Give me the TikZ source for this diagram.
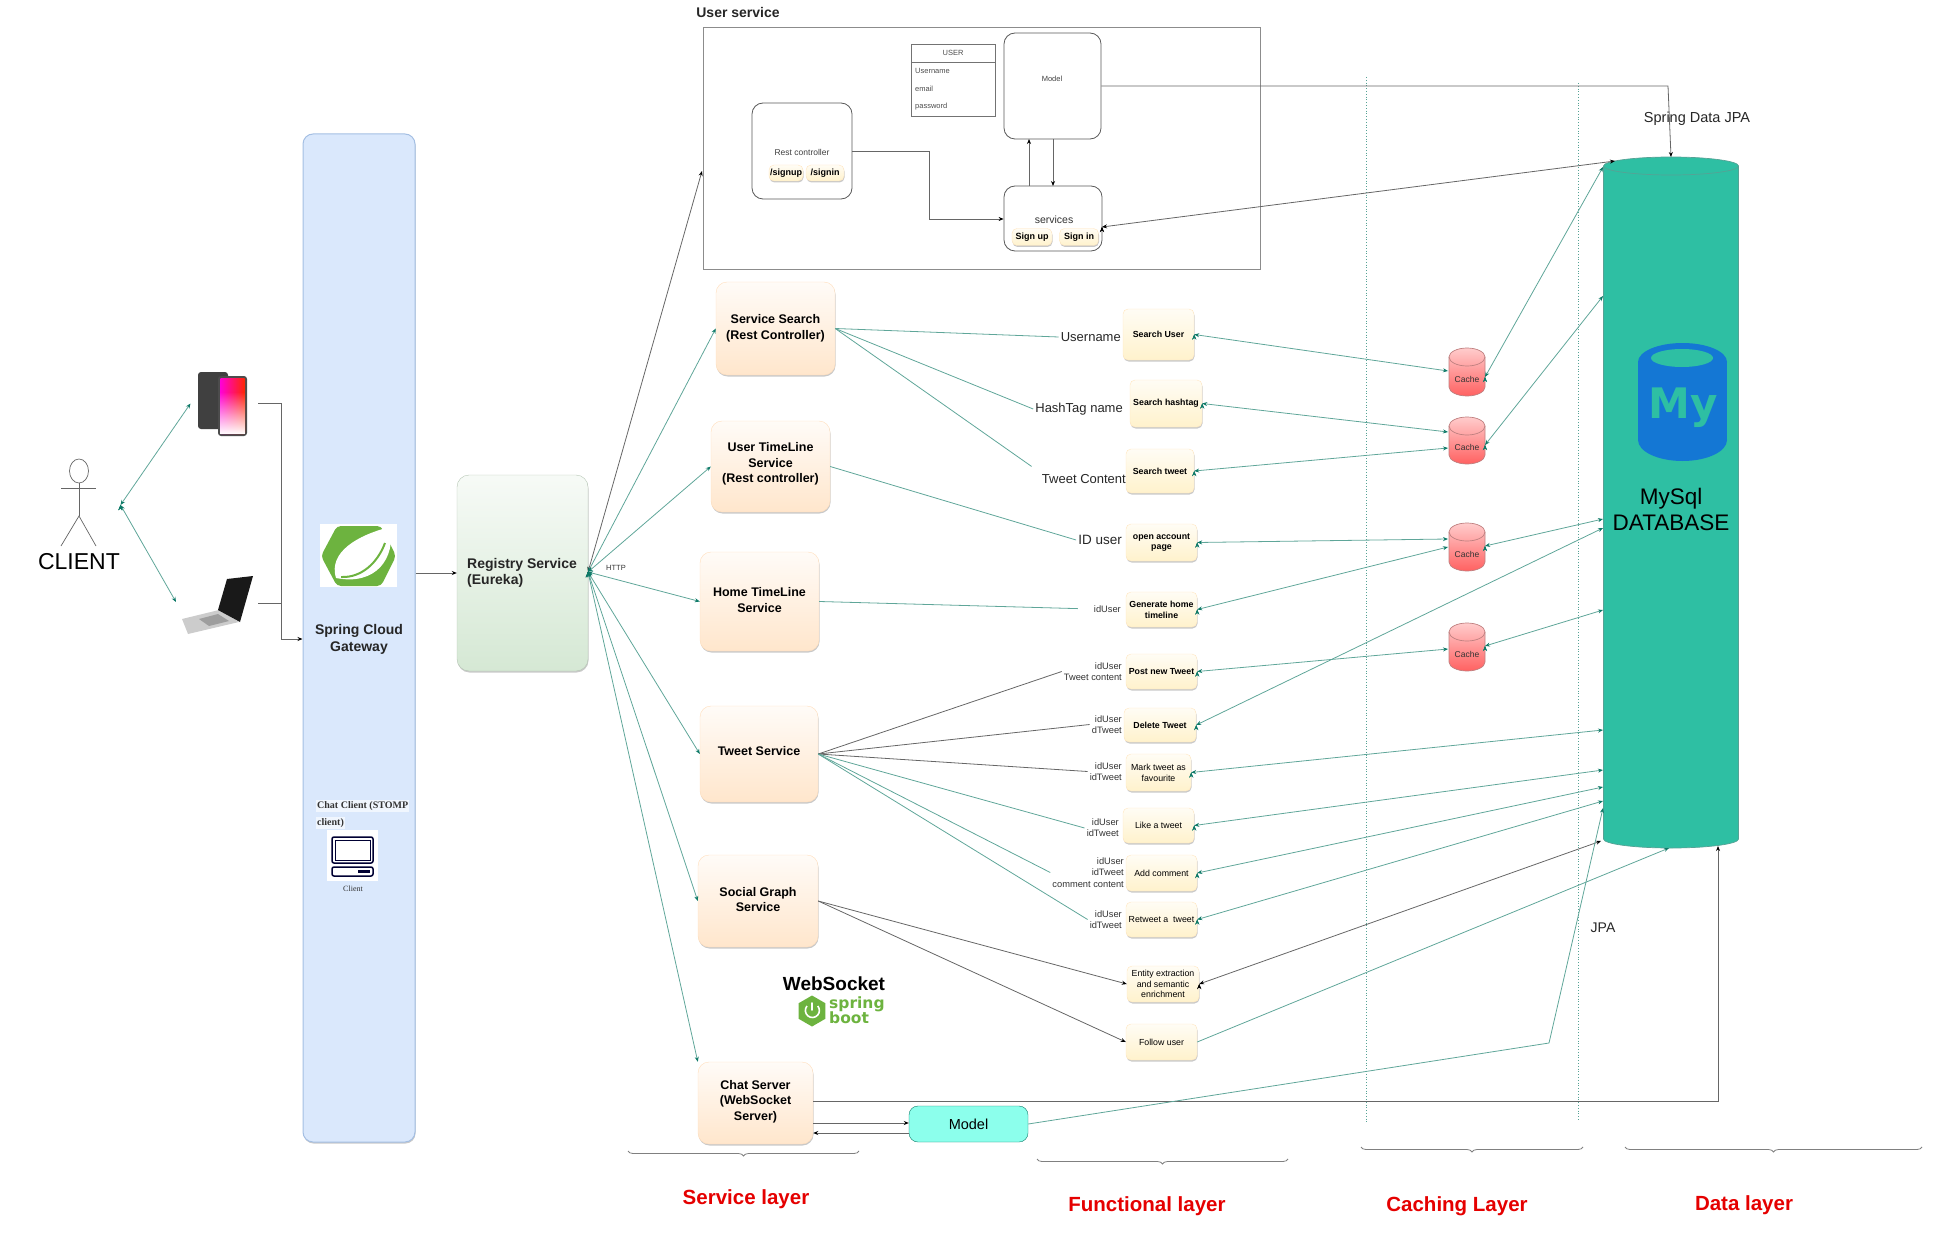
\documentclass[tikz,border=0pt]{standalone}
\usepackage{fontspec}
\setmainfont{Liberation Sans}
\newfontfamily\logofont{DejaVu Sans}
\newfontfamily\serifchat{Liberation Serif}
\usetikzlibrary{arrows.meta,shapes.geometric,shadows,fadings,decorations.pathreplacing}
\definecolor{linkteal}{HTML}{5FA699}
\definecolor{tipteal}{HTML}{0E7A68}
\definecolor{wiregrey}{HTML}{666666}
\definecolor{gwfill}{HTML}{DAE8FC}
\definecolor{gwline}{HTML}{A4BFE3}
\definecolor{dbgreen}{HTML}{2EBFA3}
\definecolor{mylogo}{HTML}{1477D4}
\definecolor{springgreen}{HTML}{6DB33F}
\definecolor{svcfill}{HTML}{FFE6CC}
\definecolor{funcfill}{HTML}{FFF2CC}
\definecolor{regfill}{HTML}{D5E8D4}
\definecolor{cyanfill}{HTML}{8CFFEC}
\newcommand{\fsz}[1]{\fontsize{#1}{#1}\selectfont}
\newcommand{\drum}[6]{%
  \path [#6] ({#1-#4},{#2+#5}) arc [start angle=180,end angle=360,x radius=#4,y radius=#5] -- ({#1+#4},{#3-#5}) arc [start angle=0,end angle=180,x radius=#4,y radius=#5] -- cycle;
  \path [#6,shade=none,fill=none] ({#1-#4},{#2+#5}) arc [start angle=180,end angle=0,x radius=#4,y radius=#5];
}
\tikzset{
  tealtip/.tip={Stealth[length=5pt,width=4pt,color=tipteal]},
  greytip/.tip={Stealth[length=5pt,width=4pt,color=black]},
  biarrow/.style={draw=linkteal,line width=.8pt,tealtip-tealtip},
  toarrow/.style={draw=linkteal,line width=.8pt,-tealtip},
  plainlink/.style={draw=linkteal,line width=.8pt},
  greylink/.style={draw=wiregrey,line width=.8pt},
  greyarrow/.style={draw=wiregrey,line width=.8pt,-greytip},
  softshadow/.style={drop shadow={shadow xshift=.5pt,shadow yshift=-1.5pt,opacity=.3,fill=black!70}},
  svcbox/.style={rectangle,rounded corners=11pt,top color=svcfill!15,middle color=svcfill,bottom color=svcfill,draw=svcfill!70!orange!60,softshadow,align=center,inner sep=0pt,font=\fsz{12.5}\bfseries},
  funcbox/.style={rectangle,rounded corners=5pt,top color=funcfill!20,middle color=funcfill,bottom color=funcfill,draw=funcfill!80!orange!70,softshadow,align=center,inner sep=0pt,font=\fsz{8.8}},
  plainbox/.style={rectangle,rounded corners=11pt,draw=black!65,line width=.8pt,fill=white,inner sep=0pt},
  cachetext/.style={inner sep=0pt,font=\fsz{8.5},text=black!80},
  cacheshape/.style={top color=red!20!white,bottom color=red!62!white,draw=red!50!black!50,line width=.7pt},
  lbl/.style={align=right,inner sep=2pt,font=\fsz{9.3},text=black!80},
  lblbig/.style={inner sep=2pt,font=\fsz{13},text=black!85},
  layername/.style={font=\fsz{20.5}\bfseries,text=red!90!black},
  bracket/.style={draw=black!50,line width=.8pt,decorate,decoration={brace,mirror,amplitude=5pt}}
}
\begin{document}
\begin{tikzpicture}[x=1pt,y=-1pt]
\useasboundingbox (0,0) rectangle (1943,1241);
% layer guides
\draw [tipteal!70,dotted,line width=.8pt] (1366,77) -- (1366,1123);
\draw [tipteal!70,dotted,line width=.8pt] (1578,83) -- (1578,1120);
%
% client
\draw [black!60,line width=.7pt] (79,471) ellipse [x radius=9.5,y radius=12];
\draw [black!60,line width=.7pt] (61,488) -- (96,488);
\draw [black!60,line width=.7pt] (79,483) -- (79,516);
\draw [black!60,line width=.7pt] (61,546) -- (79,516) -- (96,546);
\node (client) at (79,562) {\fsz{23}CLIENT};
\coordinate (a0) at (120.5,505);
\coordinate (a1) at (190.5,403.5);
\coordinate (a2) at (176,602);
%
% phones
\fill [black!75,rounded corners=3pt] (198,372) rectangle (228,429);
\fill [black!70,rounded corners=3pt] (218,376) rectangle (247,436);
\shade [rounded corners=1pt,left color=magenta!85!red,right color=red!70!orange] (220,378) rectangle (245,434);
\fill [white,path fading=north] (220,392) rectangle (245,434);
\coordinate (p1) at (258,403);
%
% laptop
\fill [black!20] (182,619) -- (219,610) -- (239,622) -- (188,634) -- cycle;
\fill [black!38] (199,619) -- (218,614) -- (229,621) -- (209,626) -- cycle;
\fill [black!90] (227,579) -- (253,576) -- (240,622) -- (218,610) -- cycle;
\coordinate (p2) at (258,603);
\coordinate (j1) at (281,639);
%
% gateway
\node (gw) at (359,638) [rectangle,rounded corners=10pt,fill=gwfill,draw=gwline,line width=1pt,minimum width=112pt,minimum height=1008pt,softshadow] {};
\fill [white] (320,524) rectangle (397,587);
\fill [springgreen,rounded corners=4pt] (321,556) -- (337,526) -- (381,526) -- (396,556) -- (381,586) -- (337,586) -- cycle;
\fill [white] (336,578) .. controls (328,552) and (358,535) .. (390,527) .. controls (396,558) and (376,586) .. (336,578) -- cycle;
\draw [springgreen,line width=2pt] (341,577) .. controls (362,578) and (378,562) .. (385,543);
\fill [white] (338,575) circle [radius=2.5];
\node (gwtext) at (359,639) [align=center,font=\fsz{14}\bfseries,text=black!85] {Spring Cloud\\[3pt]Gateway};
\node (chat1) at (316,806) [anchor=west,inner sep=1pt,fill=white!60!gwfill,font=\serifchat\fsz{10}\bfseries,text=black!80] {Chat Client (STOMP};
\node (chat2) at (316,823) [anchor=west,inner sep=1pt,fill=white!60!gwfill,font=\serifchat\fsz{10}\bfseries,text=black!80] {client)};
\fill [white] (327,830) rectangle (378,881);
\draw [black!80!blue,line width=1.5pt,rounded corners=2pt] (332,837) rectangle (373,863);
\draw [black!80!blue,line width=1pt] (335,840) rectangle (370,860);
\draw [black!80!blue,line width=1.5pt,rounded corners=2pt] (332,867) rectangle (373,876);
\fill [black!80!blue] (358,870) rectangle (370,873);
\node (chat3) at (353,889) [font=\serifchat\fsz{8},text=black!80] {Client};
%
% registry
\node (reg) at (522.5,573) [rectangle,rounded corners=12pt,top color=regfill!20,middle color=regfill,bottom color=regfill,draw=regfill!85!black,softshadow,minimum width=131pt,minimum height=196pt] {};
\node (regtext) at (467,573) [anchor=west,align=left,inner sep=0pt,font=\fsz{14}\bfseries,text=black!85] {Registry Service\\[2.5pt](Eureka)};
\node (http) at (616,568) [font=\fsz{7.5},text=black!80] {HTTP};
\coordinate (hub) at (588,572);
%
% service layer
\node (s1) at (775.5,328.5) [svcbox,minimum width=119pt,minimum height=93pt] {Service Search\\[3pt](Rest Controller)};
\node (s2) at (770.5,466.5) [svcbox,minimum width=119pt,minimum height=91pt,text depth=8pt] {User TimeLine\\[3pt]Service\\[3pt](Rest controller)};
\node (s3) at (759.5,601.5) [svcbox,minimum width=119pt,minimum height=99pt,text depth=3.5pt] {Home TimeLine\\[3pt]Service};
\node (s4) at (759,754) [svcbox,minimum width=118pt,minimum height=96pt,text depth=7pt] {Tweet Service};
\node (s5) at (758,901) [svcbox,minimum width=120pt,minimum height=92pt,text depth=3pt] {Social Graph\\[3pt]Service};
\node (s6) at (755.5,1103) [svcbox,minimum width=115pt,minimum height=82pt,text depth=6pt] {Chat Server\\[3pt](WebSocket\\[3pt]Server)};
\node (mdl) at (968.5,1124) [rectangle,rounded corners=9pt,fill=cyanfill,draw=tipteal,minimum width=119pt,minimum height=36pt,font=\fsz{14.5}] {Model};
%
% websocket logo
\node (ws) at (834,984) [font=\fsz{19}\bfseries] {WebSocket};
\node (sb1) at (812,1011) [regular polygon,regular polygon sides=6,shape border rotate=30,fill=springgreen,minimum size=31pt,inner sep=0pt] {};
\draw [white,line width=1.6pt,line cap=round] (812,1003) -- (812,1010);
\draw [white,line width=1.6pt] (807,1006) arc [start angle=220,end angle=-40,radius=7];
\node (sb2) at (829,1004) [anchor=west,inner sep=0pt,font=\logofont\fsz{15.5}\bfseries,text=springgreen] {spring};
\node (sb3) at (829,1018) [anchor=west,inner sep=0pt,font=\logofont\fsz{15.5}\bfseries,text=springgreen] {boot};
%
% user service
\node (ustitle) at (738,12) [font=\fsz{14}\bfseries,text=black!85] {User service};
\node (us) at (981.5,148) [rectangle,draw=black!45,line width=.8pt,minimum width=557pt,minimum height=242pt] {};
\node (rc) at (802,151) [plainbox,minimum width=100pt,minimum height=96pt] {};
\node (rctext) at (802,152) [font=\fsz{8.5},text=black!75] {Rest controller};
\node (b1) at (786,173) [funcbox,minimum width=34pt,minimum height=16pt,font=\fsz{9}\bfseries] {/signup};
\node (b2) at (825,173) [funcbox,minimum width=38pt,minimum height=16pt,font=\fsz{9}\bfseries] {/signin};
\node (tb) at (953,80) [rectangle,draw=black!55,minimum width=84pt,minimum height=72pt] {};
\draw [black!55,line width=.8pt] (911,62) -- (995,62);
\node (tb0) at (953,53) [font=\fsz{7.5},text=black!70] {USER};
\node (tb1) at (915,71) [anchor=west,inner sep=0pt,font=\fsz{7.5},text=black!70] {Username};
\node (tb2) at (915,89) [anchor=west,inner sep=0pt,font=\fsz{7.5},text=black!70] {email};
\node (tb3) at (915,107) [anchor=west,inner sep=0pt,font=\fsz{7.5},text=black!70] {password};
\node (um) at (1052.5,86) [plainbox,minimum width=97pt,minimum height=106pt] {};
\node (umtext) at (1052,79) [font=\fsz{7.5},text=black!75] {Model};
\node (sv) at (1053,218.5) [plainbox,minimum width=98pt,minimum height=65pt] {};
\node (svtext) at (1054,220) [font=\fsz{10.5},text=black!80] {services};
\node (b3) at (1032,237) [funcbox,minimum width=40pt,minimum height=17pt,font=\fsz{9}\bfseries] {Sign up};
\node (b4) at (1079,237) [funcbox,minimum width=39pt,minimum height=17pt,font=\fsz{9}\bfseries] {Sign in};
\coordinate (r1) at (929,219);
\coordinate (u1) at (1029,186);
\coordinate (u2) at (1029,139);
\coordinate (u3) at (1053,139);
\coordinate (u4) at (1053,186);
\coordinate (u5) at (1102,227);
\coordinate (u6) at (702,171);
%
% functional layer
\node (f1) at (1158.5,334.5) [funcbox,minimum width=71pt,minimum height=51pt,font=\fsz{8.8}\bfseries] {Search User};
\node (f2) at (1166,403.5) [funcbox,minimum width=72pt,minimum height=47pt,font=\fsz{8.8}\bfseries] {Search hashtag};
\node (f3) at (1160,471) [funcbox,minimum width=68pt,minimum height=44pt,font=\fsz{8.8}\bfseries] {Search tweet};
\node (f4) at (1161.5,542.5) [funcbox,minimum width=71pt,minimum height=37pt,font=\fsz{8.8}\bfseries] {open account\\[2pt]page};
\node (f5) at (1161.5,609.5) [funcbox,minimum width=71pt,minimum height=35pt,font=\fsz{8.8}\bfseries] {Generate home\\[2pt]timeline};
\node (f6) at (1161.5,671.5) [funcbox,minimum width=71pt,minimum height=35pt,font=\fsz{8.8}\bfseries] {Post new Tweet};
\node (f7) at (1160,725) [funcbox,minimum width=72pt,minimum height=34pt,font=\fsz{8.8}\bfseries] {Delete Tweet};
\node (f8) at (1158.5,772.5) [funcbox,minimum width=65pt,minimum height=37pt] {Mark tweet as\\[2pt]favourite};
\node (f9) at (1158.5,825.5) [funcbox,minimum width=71pt,minimum height=35pt] {Like a tweet};
\node (f10) at (1161.5,873) [funcbox,minimum width=71pt,minimum height=36pt] {Add comment};
\node (f11) at (1161.5,919.5) [funcbox,minimum width=71pt,minimum height=35pt] {Retweet a~~tweet};
\node (f12) at (1163,984) [funcbox,minimum width=72pt,minimum height=36pt] {Entity extraction\\[2pt]and semantic\\[2pt]enrichment};
\node (f13) at (1161.5,1042) [funcbox,minimum width=71pt,minimum height=36pt] {Follow user};
%
\node (l1) at (1123,337) [lblbig,anchor=east] {Username};
\node (l2) at (1125,409) [lblbig,anchor=east] {HashTag name};
\node (l3) at (1128,479) [lblbig,anchor=east] {Tweet Content};
\node (l4) at (1124,540) [lblbig,anchor=east,font=\fsz{13.5}] {ID user};
\node (l5) at (1123,609) [lbl,anchor=east] {idUser};
\node (l6) at (1124,671.5) [lbl,anchor=east] {idUser\\[2pt]Tweet content};
\node (l7) at (1124,724.5) [lbl,anchor=east] {idUser\\[2pt]dTweet};
\node (l8) at (1124,771.5) [lbl,anchor=east] {idUser\\[2pt]idTweet};
\node (l9) at (1121,828) [lbl,anchor=east] {idUser\\[2pt]idTweet};
\node (l10) at (1126,872.5) [lbl,anchor=east] {idUser\\[2pt]idTweet\\[2pt]comment content};
\node (l11) at (1124,919.5) [lbl,anchor=east] {idUser\\[2pt]idTweet};
%
% caching layer
\drum{1467}{348}{396}{18}{9}{cacheshape}
\drum{1467}{417}{464}{18}{9}{cacheshape}
\drum{1467}{523}{571}{18}{9}{cacheshape}
\drum{1467}{623}{671}{18}{9}{cacheshape}
\node (c1) at (1467,379) [cachetext] {Cache};
\node (c2) at (1467,447) [cachetext] {Cache};
\node (c3) at (1467,554) [cachetext] {Cache};
\node (c4) at (1467,654) [cachetext] {Cache};
\coordinate (k0) at (1448,371);
\coordinate (k1) at (1448,432);
\coordinate (k2) at (1448,448);
\coordinate (k3) at (1448,539);
\coordinate (k4) at (1448,547);
\coordinate (k5) at (1448,649);
\coordinate (e1) at (1485,377);
\coordinate (e2) at (1485,445);
\coordinate (e3) at (1485,546);
\coordinate (e4) at (1485,646);
%
% data layer
\drum{1671}{157}{848}{67.5}{9}{fill=dbgreen,draw=tipteal!70,line width=.7pt}
\fill [mylogo] (1638,362) rectangle (1727,440);
\fill [mylogo] (1682.5,362) ellipse [x radius=44.5,y radius=19];
\fill [mylogo] (1682.5,440) ellipse [x radius=44.5,y radius=21];
\fill [dbgreen] (1682,358) ellipse [x radius=31,y radius=9];
\node (mylabel) at (1683,408) [font=\logofont\fsz{42}\bfseries,text=dbgreen] {My};
\node (dbtext) at (1671,509.5) [align=center,font=\fsz{22.5}] {MySql\\[3pt]DATABASE};
\node (jpa1) at (1697,118.5) [font=\fsz{14.5},text=black!85] {Spring Data JPA};
\node (jpa2) at (1603,928) [font=\fsz{14},text=black!85] {JPA};
\coordinate (v0) at (1615,161);
\coordinate (v1) at (1603,167);
\coordinate (v2) at (1603,296);
\coordinate (v3) at (1603,519);
\coordinate (v4) at (1603,528);
\coordinate (v5) at (1603,610);
\coordinate (v6) at (1603,730);
\coordinate (v7) at (1603,770);
\coordinate (v8) at (1603,787);
\coordinate (v9) at (1603,801);
\coordinate (v10) at (1603,808);
\coordinate (v11) at (1601,841);
\coordinate (v12) at (1669,848);
\coordinate (v13) at (1718,846);
\coordinate (v14) at (1671,157);
\coordinate (n1) at (1549,1043);
\coordinate (n2) at (1718,1101);
\coordinate (n3) at (1668,86);
%
% client links
\draw [biarrow] (a0) edge (a1);
\draw [biarrow] (a0) edge (a2);
\draw [greylink] (p1) -| (j1);
\draw [greylink] (p2) -- (p2 -| j1);
\draw [greyarrow] (j1) -- (j1 -| gw.west);
\draw [greyarrow] (gw.east |- reg.west) -- (reg.west);
%
% registry links
\draw [greylink,greytip-greytip] (hub) edge (u6);
\draw [biarrow] (hub) edge (s1.west);
\draw [biarrow] (hub) edge (s2.west);
\draw [biarrow] (hub) edge (s3.west);
\draw [biarrow] (hub) edge (s4.west);
\draw [biarrow] (hub) edge (s5.west);
\draw [biarrow] (hub) edge (s6.north west);
%
% user service links
\draw [greyarrow] (rc.east) -| (r1) -- (r1 -| sv.west);
\draw [greyarrow] (u1) -- (u2);
\draw [greyarrow] (u3) -- (u4);
\draw [greyarrow] (um.east |- n3) -- (n3) -- (v14);
\draw [greylink,greytip-greytip] (u5) edge (v0);
%
% service to label
\draw [plainlink] (s1.east) edge (l1.west);
\draw [plainlink] (s1.east) edge (l2.west);
\draw [plainlink,shorten >=10pt] (s1.east) edge (l3.north west);
\draw [plainlink] (s2.east) edge (l4.west);
\draw [plainlink,shorten >=14pt] (s3.east) edge (l5.west);
\draw [greylink] (s4.east) edge (l6.west);
\draw [greylink] (s4.east) edge (l7.west);
\draw [greylink] (s4.east) edge (l8.west);
\draw [plainlink] (s4.east) edge (l9.west);
\draw [plainlink] (s4.east) edge (l10.west);
\draw [plainlink] (s4.east) edge (l11.west);
\draw [greyarrow] (s5.east) -- (f12.west);
\draw [greyarrow] (s5.east) -- (f13.west);
%
% function to cache and database
\draw [biarrow] (f1.east) edge (k0);
\draw [biarrow] (f2.east) edge (k1);
\draw [biarrow] (f3.east) edge (k2);
\draw [biarrow] (f4.east) edge (k3);
\draw [biarrow] (f5.east) edge (k4);
\draw [biarrow] (f6.east) edge (k5);
\draw [biarrow] (f7.east) edge (v4);
\draw [biarrow] (e1) edge (v1);
\draw [biarrow] (e2) edge (v2);
\draw [biarrow] (e3) edge (v3);
\draw [biarrow] (e4) edge (v5);
\draw [biarrow] (f8.east) edge (v6);
\draw [biarrow] (f9.east) edge (v7);
\draw [biarrow] (f10.east) edge (v8);
\draw [biarrow] (f11.east) edge (v9);
\draw [greylink,greytip-greytip] (f12.east) edge (v11);
\draw [toarrow] (f13.east) -- (v12);
%
% chat links
\draw [greyarrow] (s6.east |- n2) -- (n2) -- (v13);
\draw [toarrow] (mdl.east) -- (n1) -- (v10);
\draw [greyarrow] ([yshift=1pt]s6.east |- mdl.west) -- ([yshift=1pt]mdl.west);
\draw [greyarrow] ([yshift=-9pt]mdl.west) -- ([yshift=-9pt]s6.east |- mdl.west);
%
% layer brackets
\coordinate (q1) at (628,1151);
\coordinate (q2) at (859,1151);
\coordinate (q3) at (1037,1159);
\coordinate (q4) at (1288,1159);
\coordinate (q5) at (1361,1147);
\coordinate (q6) at (1583,1147);
\coordinate (q7) at (1625,1147);
\coordinate (q8) at (1922,1147);
\draw [bracket] (q1) -- (q2);
\draw [bracket] (q3) -- (q4);
\draw [bracket] (q5) -- (q6);
\draw [bracket] (q7) -- (q8);
\node (n5) at (746,1199) [layername] {Service layer};
\node (n6) at (1147,1206) [layername] {Functional layer};
\node (n7) at (1457,1206) [layername] {Caching Layer};
\node (n8) at (1744,1205) [layername] {Data layer};
\end{tikzpicture}
\end{document}
